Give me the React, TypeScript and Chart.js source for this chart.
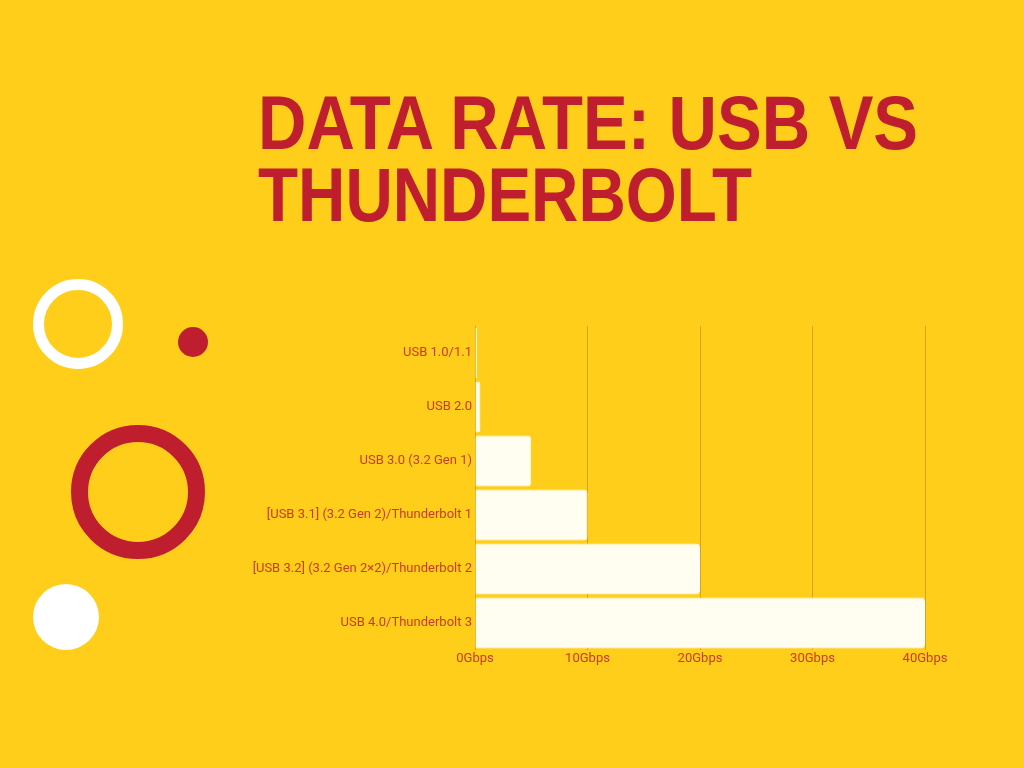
import React, { useEffect, useLayoutEffect, useRef } from "react";
import { Chart, registerables } from "chart.js";

Chart.register(...registerables);

const categories = [
  "USB 1.0/1.1",
  "USB 2.0",
  "USB 3.0 (3.2 Gen 1)",
  "[USB 3.1] (3.2 Gen 2)/Thunderbolt 1",
  "[USB 3.2] (3.2 Gen 2×2)/Thunderbolt 2",
  "USB 4.0/Thunderbolt 3",
];
const dataRateGbps = [0.012, 0.48, 5, 10, 20, 40];
const xTicks = [0, 10, 20, 30, 40];
const tickUnit = "Gbps";
const titleLines = ["DATA RATE: USB VS", "THUNDERBOLT"];
const titleWidths = [660, 494];

const BG = "#FECE1B";
const RED = "#BE1E2E";
const LABEL = "#CC3A2C";

export default function App() {
  const ref = useRef<HTMLCanvasElement>(null);
  const lineRefs = useRef<(HTMLSpanElement | null)[]>([]);

  useLayoutEffect(() => {
    lineRefs.current.forEach((el, i) => {
      if (!el) return;
      const w = el.getBoundingClientRect().width;
      if (w > 0) el.style.transform = `scaleX(${titleWidths[i] / w})`;
    });
  }, []);

  useEffect(() => {
    document.body.style.margin = "0";
    const chart = new Chart(ref.current!, {
      type: "bar",
      data: {
        labels: categories,
        datasets: [
          {
            data: dataRateGbps,
            backgroundColor: "#FFFEF0",
            borderColor: "#FFFFFF",
            borderWidth: 1,
            borderRadius: 4,
            borderSkipped: "start",
            categoryPercentage: 1,
            barPercentage: 0.94,
            minBarLength: 2,
          },
        ],
      },
      options: {
        indexAxis: "y",
        animation: false,
        responsive: false,
        maintainAspectRatio: false,
        layout: { padding: { left: 0, right: 99, top: 26, bottom: 0 } },
        plugins: { legend: { display: false }, tooltip: { enabled: false } },
        scales: {
          x: {
            min: 0,
            max: 40,
            afterFit: (s: any) => {
              s.height = 30;
            },
            afterBuildTicks: (s: any) => {
              s.ticks = xTicks.map((v) => ({ value: v }));
            },
            grid: { color: "#D4A716", lineWidth: 1, drawTicks: false },
            border: { display: false },
            ticks: {
              color: LABEL,
              padding: 1,
              font: { family: "Roboto", size: 13 },
              callback: (v: any) => `${v}${tickUnit}`,
            },
          },
          y: {
            afterFit: (s: any) => {
              s.width = 475;
            },
            grid: { display: false, drawTicks: false },
            border: { display: false },
            ticks: {
              color: LABEL,
              padding: 3,
              font: { family: "Roboto", size: 13 },
            },
          },
        },
      },
    });
    return () => chart.destroy();
  }, []);

  const circle = (
    cx: number,
    cy: number,
    r: number,
    fill: string,
    ring?: number
  ): React.CSSProperties => ({
    position: "absolute",
    left: cx - r,
    top: cy - r,
    width: ring ? 2 * r - 2 * ring : 2 * r,
    height: ring ? 2 * r - 2 * ring : 2 * r,
    borderRadius: "50%",
    background: ring ? "transparent" : fill,
    border: ring ? `${ring}px solid ${fill}` : "none",
  });

  return (
    <div
      style={{
        position: "fixed",
        left: 0,
        top: 0,
        width: 1024,
        height: 768,
        background: BG,
        overflow: "hidden",
      }}
    >
      <div style={circle(78, 324, 45, "#FFFFFF", 11)} />
      <div style={circle(193, 342, 15, RED)} />
      <div style={circle(138, 492, 67, RED, 17)} />
      <div style={circle(66, 617, 33, "#FFFFFF")} />
      <div
        style={{
          position: "absolute",
          left: 258,
          top: 87,
          color: RED,
          fontFamily: "'Liberation Sans', Arial, sans-serif",
          fontWeight: 700,
          fontSize: 76,
          lineHeight: "72px",
          whiteSpace: "nowrap",
        }}
      >
        {titleLines.map((t, i) => (
          <div key={i}>
            <span
              ref={(el) => {
                lineRefs.current[i] = el;
              }}
              style={{ display: "inline-block", transformOrigin: "left center" }}
            >
              {t}
            </span>
          </div>
        ))}
      </div>
      <canvas
        ref={ref}
        width={1024}
        height={380}
        style={{ position: "absolute", left: 0, top: 300 }}
      />
    </div>
  );
}
